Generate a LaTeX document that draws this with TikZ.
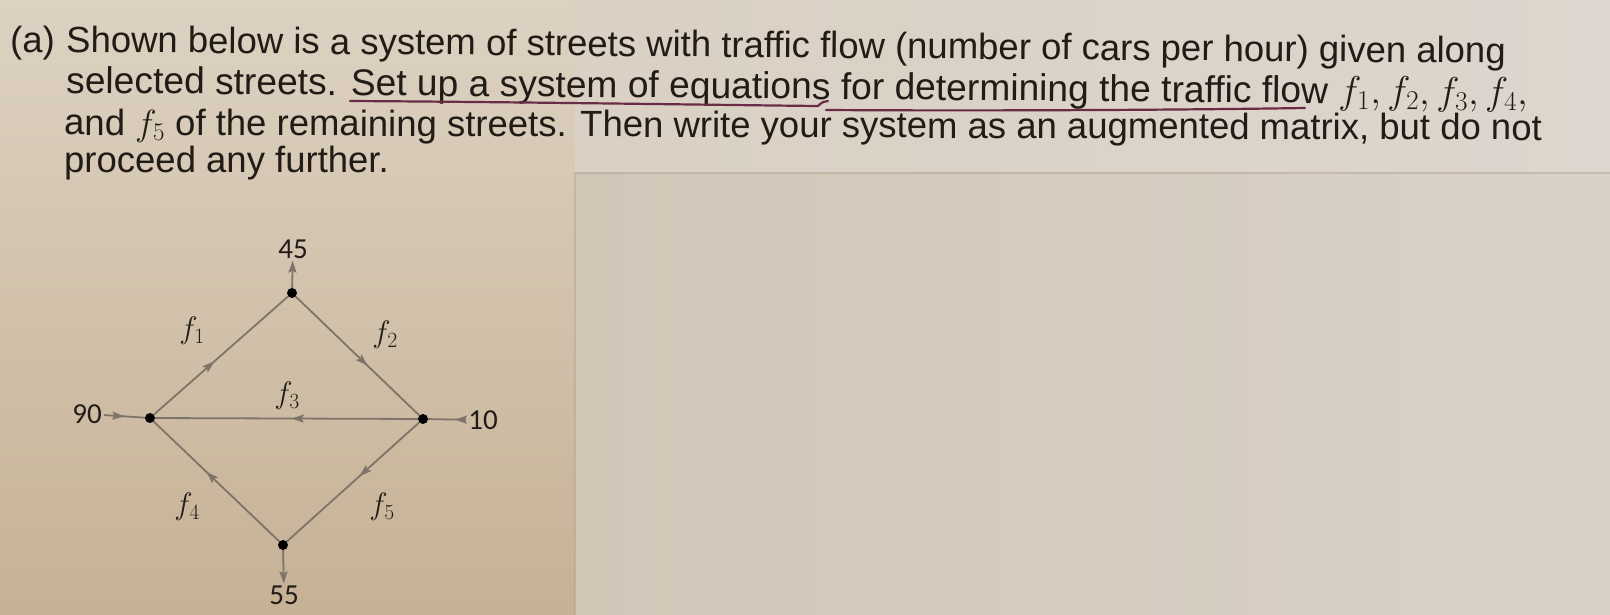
\RequirePackage{fix-cm}
\documentclass[tikz,border=0pt]{standalone}
\usepackage[no-math]{fontspec}
\setmainfont{Liberation Sans}
\newfontfamily\dnum{Carlito}
\usetikzlibrary{arrows.meta,decorations.markings}
\definecolor{bgl}{HTML}{CDBBA1}
\definecolor{bgr}{HTML}{DBD3CA}
\definecolor{lefttop}{HTML}{DDD2C2}
\definecolor{leftbot}{HTML}{C6B195}
\definecolor{toprl}{HTML}{DAD0C3}
\definecolor{toprr}{HTML}{DDD6CE}
\definecolor{boxl}{HTML}{D2C6B7}
\definecolor{boxr}{HTML}{D9D1C8}
\definecolor{ink}{HTML}{221C17}
\definecolor{roadc}{HTML}{7F746A}
\definecolor{pen}{HTML}{6A2C44}
\tikzset{
  txt/.style={anchor=base west, inner sep=0pt, text=ink, font=\fontsize{36.5}{44}\selectfont},
  road/.style={draw=roadc, line width=1.8pt},
  jdot/.style={circle, fill=black, inner sep=0pt, minimum size=10pt},
  numlbl/.style={text=ink, inner sep=2pt, font=\dnum\fontsize{29}{34}\selectfont},
  flab/.style={text=ink, inner sep=0pt, font=\fontsize{31}{36}\selectfont},
  marr/.style={postaction={decorate}, decoration={markings, mark=at position #1 with {\arrow[roadc]{Stealth[length=12pt,width=8pt,inset=2pt]}}}},
  endarr/.style={-{Stealth[length=12pt,width=8pt,inset=2pt]}},
  ulstroke/.style={draw=pen, line width=2.2pt, line cap=round},
}
\begin{document}
\begin{tikzpicture}[x=1pt,y=-1pt]
\useasboundingbox (0,0) rectangle (1610,615);
% background
\shade[left color=bgl, right color=bgr] (0,0) rectangle (1610,615);
\shade[top color=lefttop, bottom color=leftbot] (0,0) rectangle (576,615);
\shade[left color=toprl, right color=toprr] (575,0) rectangle (1610,174);
\shade[left color=boxl, right color=boxr] (575,173) rectangle (1610,615);
\draw[color=leftbot!80!black, line width=2pt, opacity=0.3] (575,615) -- (575,173) -- (1610,173);

% text
\node[txt, rotate=-0.45] (la) at (10,52) {(a)};
\node[txt, rotate=-0.45] (l1) at (66,52) {Shown below is a system of streets with traffic flow (number of cars per hour) given along};
\node[txt, rotate=-0.47, font=\fontsize{37.2}{44}\selectfont] (l2) at (66,93) {selected streets. Set up a system of equations for determining the traffic flow {\fontsize{39}{44}\selectfont$f_1, f_2, f_3, f_4,$}};
\node[txt, rotate=-0.2] (l3) at (64,135) {and $f_5$ of the remaining streets. Then write your system as an augmented matrix, but do not};
\node[txt] (l4) at (64,173) {proceed any further.};

% underline
\draw[ulstroke] (350,101) .. controls (520,102) and (720,105) .. (818,106);
\draw[ulstroke] (818,106) .. controls (822,102) and (825,101) .. (828,101);
\draw[ulstroke] (826,110) .. controls (980,111) and (1180,110) .. (1305,108);

% diagram junctions
\node[jdot] (T) at (292,293) {};
\node[jdot] (L) at (150,418) {};
\node[jdot] (R) at (423,419) {};
\node[jdot] (B) at (283,545) {};

% external labels
\node[numlbl] (n45) at (293,249) {45};
\node[numlbl] (n90) at (87,414) {90};
\node[numlbl] (n10) at (483,420) {10};
\node[numlbl] (n55) at (284,595) {55};

% streets
\draw[road, marr=0.45] (L) -- (T);
\draw[road, marr=0.58] (T) -- (R);
\draw[road, marr=0.48] (R) -- (L);
\draw[road, marr=0.58] (B) -- (L);
\draw[road, marr=0.45] (R) -- (B);

% external flows
\draw[road, marr=0.5] (n90) -- (L);
\draw[road, marr=0.3] (n10) -- (R);
\draw[road, endarr] (T) -- (n45);
\draw[road, endarr] (B) -- (n55);

% street labels
\node[flab] (f1) at (192,331) {$f_1$};
\node[flab] (f2) at (385,335) {$f_2$};
\node[flab] (f3) at (287,396) {$f_3$};
\node[flab] (f4) at (187,507) {$f_4$};
\node[flab] (f5) at (382,507) {$f_5$};
\end{tikzpicture}
\end{document}
